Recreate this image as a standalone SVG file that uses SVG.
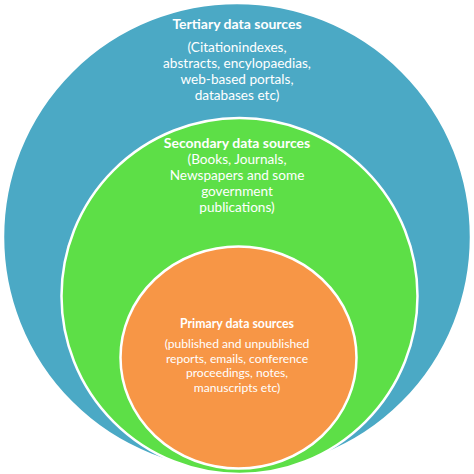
<svg xmlns="http://www.w3.org/2000/svg" width="474" height="474" viewBox="0 0 474 474">
<style>
.t{font-family:Lato,"Open Sans","Liberation Sans",sans-serif;fill:#ffffff;text-anchor:middle}
.h{font-weight:bold;font-size:14px}
.b{font-size:13.6px}
.ph{font-weight:bold;font-size:12.3px}
.pb{font-size:12.1px}
.ring{stroke:#ffffff;stroke-width:2.5}
</style>
<rect width="474" height="474" fill="#ffffff"/>
<g id="tertiary">
<circle class="ring" cx="237" cy="237" r="234" fill="#4BA9C5"/>
<text class="t h" x="237" y="29">Tertiary data sources</text>
<text class="t b" x="237" y="52">(Citationindexes,</text>
<text class="t b" x="237" y="68">abstracts, encylopaedias,</text>
<text class="t b" x="237" y="84">web-based portals,</text>
<text class="t b" x="237" y="100">databases etc)</text>
</g>
<g id="secondary">
<circle class="ring" cx="239.5" cy="296" r="178" fill="#5DDF47"/>
<text class="t h" x="237" y="148">Secondary data sources</text>
<text class="t b" x="237" y="164">(Books, Journals,</text>
<text class="t b" x="237" y="180">Newspapers and some</text>
<text class="t b" x="237" y="196">government</text>
<text class="t b" x="237" y="212">publications)</text>
</g>
<g id="primary">
<ellipse class="ring" cx="238.5" cy="357.5" rx="118" ry="111" fill="#F79646"/>
<text class="t ph" x="237" y="328">Primary data sources</text>
<text class="t pb" x="237" y="348">(published and unpublished</text>
<text class="t pb" x="237" y="362.5">reports, emails, conference</text>
<text class="t pb" x="237" y="377">proceedings, notes,</text>
<text class="t pb" x="237" y="391.5">manuscripts etc)</text>
</g>
<g id="connectors"></g>
</svg>
